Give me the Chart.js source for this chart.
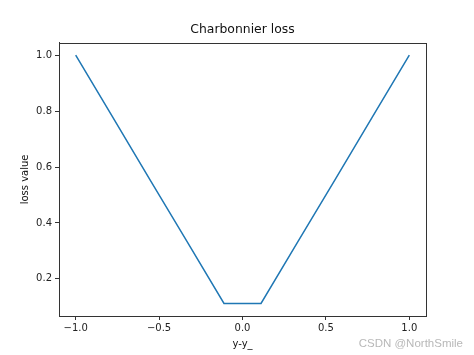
<!doctype html>
<html>
<head>
    <title>Charbonnier loss</title>
    <script src="https://cdn.jsdelivr.net/npm/chart.js"></script>
    <style>
        html, body { margin: 0; padding: 0; background: white; }
        #wrap { width: 474px; height: 355px; }
    </style>
</head>
<body>
    <div id="wrap"><canvas id="lossChart" width="474" height="355"></canvas></div>

    <script>
        // values
        const xs = [-1.0, -0.778, -0.556, -0.333, -0.111, 0.111, 0.333, 0.556, 0.778, 1.0];
        const losses = [1.0, 0.778, 0.556, 0.334, 0.112, 0.112, 0.334, 0.556, 0.778, 1.0];
        const xTicks = [-1.0, -0.5, 0.0, 0.5, 1.0];
        const yTicks = [0.2, 0.4, 0.6, 0.8, 1.0];

        const frame = {
            id: 'frame',
            afterDatasetsDraw(chart) {
                const a = chart.chartArea, ctx = chart.ctx;
                ctx.save();
                ctx.strokeStyle = '#333';
                ctx.lineWidth = 1;
                ctx.strokeRect(Math.round(a.left) + 0.5, Math.round(a.top) + 0.5,
                    Math.round(a.right - a.left), Math.round(a.bottom - a.top));
                ctx.fillStyle = '#b8b8b8';
                ctx.font = '11.5px "Liberation Sans", Arial, sans-serif';
                ctx.textAlign = 'right';
                ctx.textBaseline = 'middle';
                ctx.fillText('CSDN @NorthSmile', 463, 344);
                ctx.restore();
            }
        };

        const fmt = v => (v < 0 ? '\u2212' : '') + Math.abs(v).toFixed(1);

        new Chart(document.getElementById('lossChart'), {
            type: 'line',
            data: {
                datasets: [{
                    data: xs.map((x, i) => ({ x, y: losses[i] })),
                    borderColor: '#1f77b4',
                    borderWidth: 1.5,
                    pointRadius: 0,
                    fill: false,
                    tension: 0
                }]
            },
            options: {
                responsive: false,
                animation: false,
                layout: { padding: { top: 0, right: 48, bottom: 0, left: 0 } },
                plugins: {
                    legend: { display: false },
                    tooltip: { enabled: false },
                    title: {
                        display: true,
                        fullSize: false,
                        text: 'Charbonnier loss',
                        color: '#111',
                        font: { family: 'DejaVu Sans', size: 12.4, weight: 'normal' },
                        padding: { top: 22, bottom: 6 }
                    }
                },
                scales: {
                    x: {
                        type: 'linear',
                        min: -1.1,
                        max: 1.1,
                        afterBuildTicks: s => { s.ticks = xTicks.map(v => ({ value: v })); },
                        afterFit: s => { s.height = 39; },
                        ticks: {
                            color: '#222',
                            font: { family: 'DejaVu Sans', size: 10 },
                            padding: 2,
                            maxRotation: 0,
                            callback: v => fmt(v)
                        },
                        grid: { drawOnChartArea: false, drawTicks: true, tickLength: 4, color: '#333' },
                        border: { display: true, color: '#333' },
                        title: {
                            display: true,
                            text: 'y-y_',
                            color: '#111',
                            font: { family: 'DejaVu Sans', size: 10 },
                            padding: { top: 0, bottom: 5 }
                        }
                    },
                    y: {
                        min: 0.067,
                        max: 1.044,
                        afterBuildTicks: s => { s.ticks = yTicks.map(v => ({ value: v })); },
                        afterFit: s => { s.width = 59; },
                        ticks: {
                            color: '#222',
                            font: { family: 'DejaVu Sans', size: 10 },
                            padding: 3,
                            callback: v => fmt(v)
                        },
                        grid: { drawOnChartArea: false, drawTicks: true, tickLength: 4, color: '#333' },
                        border: { display: true, color: '#333' },
                        title: {
                            display: true,
                            text: 'loss value',
                            color: '#111',
                            font: { family: 'DejaVu Sans', size: 10 },
                            padding: { top: 19, bottom: 0 }
                        }
                    }
                }
            },
            plugins: [frame]
        });
    </script>
</body>
</html>
